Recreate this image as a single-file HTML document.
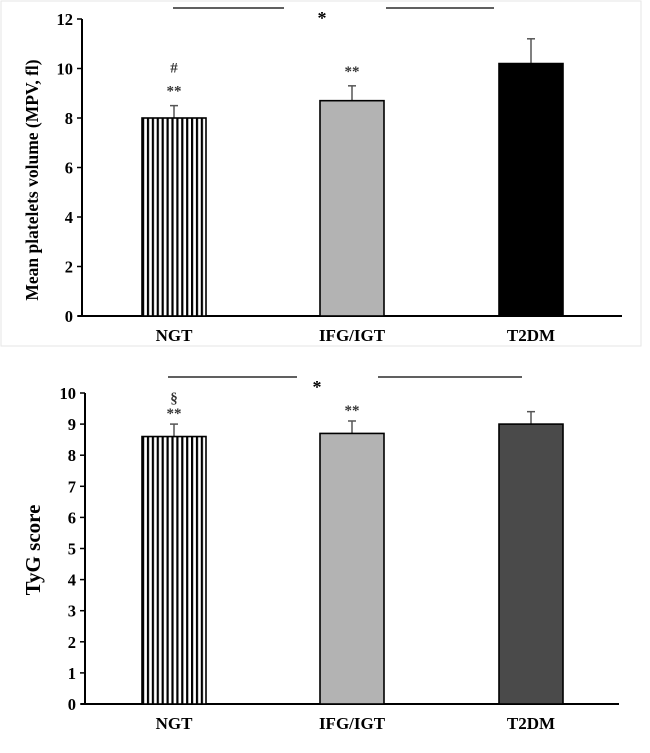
<!DOCTYPE html>
<html><head><meta charset="utf-8"><style>
html,body{margin:0;padding:0;background:#fff;}
svg{display:block;font-family:"Liberation Serif",serif;font-weight:bold;}
</style></head><body>
<svg id="c" width="650" height="753" viewBox="0 0 650 753" xmlns="http://www.w3.org/2000/svg">
<defs>
<pattern id="stripes" patternUnits="userSpaceOnUse" width="4.9" height="10" x="142">
<rect width="4.9" height="10" fill="#fff"/><rect x="0" width="2.2" height="10" fill="#000"/>
</pattern>
</defs>
<rect x="1" y="1" width="640" height="345" fill="none" stroke="#e6e6e6"/>
</svg>
<script>
const categories=["NGT","IFG/IGT","T2DM"];
const mpvValues=[8.0,8.7,10.2];
const mpvErrors=[0.5,0.6,1.0];
const mpvTicks=[0,2,4,6,8,10,12];
const mpvMarks=["# **","**",""];
const tygValues=[8.6,8.7,9.0];
const tygErrors=[0.4,0.4,0.4];
const tygTicks=[0,1,2,3,4,5,6,7,8,9,10];
const tygMarks=["§ **","**",""];

const svg=document.getElementById('c');
const NS="http://www.w3.org/2000/svg";
function mk(tag,attrs,parent){const e=document.createElementNS(NS,tag);for(const k in attrs)e.setAttribute(k,attrs[k]);(parent||svg).appendChild(e);return e;}

function chart(p){
  const g=mk('g',{});
  
  
  const yMax=p.ticks[p.ticks.length-1];
  const y=v=>p.y0-(p.y0-p.yTop)*v/yMax;
  const barL=[142,320,499], bw=64;
  const x=i=>barL[i];
  const ya=mk('line',{x1:p.ax,y1:y(yMax),x2:p.ax,y2:p.y0,stroke:'#000','stroke-width':2},g);
  
  const xa=mk('line',{x1:p.ax-4,y1:p.y0,x2:p.xEnd,y2:p.y0,stroke:'#000','stroke-width':2},g);
  
  p.ticks.forEach(t=>{
    const tk=mk('line',{x1:p.ax-5,y1:y(t),x2:p.ax,y2:y(t),stroke:'#000','stroke-width':1.5},g);
    
    const tl=mk('text',{x:p.ax-9,y:y(t)+6,'text-anchor':'end','font-size':16.5},g);
    tl.textContent=t;
    
  });
  const tt=mk('text',{x:0,y:0,'text-anchor':'middle','font-size':p.titleSize,transform:`translate(${p.titleX},${p.titleY}) rotate(-90)`},g);
  tt.textContent=p.title;
  
  p.values.forEach((v,i)=>{
    const cx=x(i)+bw/2;
    const e=mk('line',{x1:cx,y1:y(v),x2:cx,y2:y(v+p.errors[i]),stroke:'#555','stroke-width':1.5},g);
    
    const ec=mk('line',{x1:cx-4,y1:y(v+p.errors[i]),x2:cx+4,y2:y(v+p.errors[i]),stroke:'#555','stroke-width':1.5},g);
    
    const r=mk('rect',{x:x(i),y:y(v),width:bw,height:p.y0-y(v),fill:p.fills[i],stroke:'#000','stroke-width':1.6},g);
    
    
    const cl=mk('text',{x:cx,y:p.labelY,'text-anchor':'middle','font-size':17},g);
    cl.textContent=categories[i];
    
    const m=p.marks[i];
    if(m){
      const parts=m.split(' ');
      const top=y(v+p.errors[i]);
      parts.reverse().forEach((s,k)=>{
        const st=mk('text',{x:cx,y:top-p.markGap-k*p.markStep,'text-anchor':'middle','font-size':15,fill:'#333'},g);
        st.textContent=s;
        
      });
    }
  });
  p.brackets.forEach(b=>{
    const l=mk('line',{x1:b[0],y1:p.brY,x2:b[1],y2:p.brY,stroke:'#000','stroke-width':1.2},g);
    
  });
  const s=mk('text',{x:p.starX,y:p.brY+16,'text-anchor':'middle','font-size':18},g);
  s.textContent='*';
  
}
chart({name:'mpv-chart',values:mpvValues,errors:mpvErrors,ticks:mpvTicks,marks:mpvMarks,ax:82,y0:316,yTop:19,xEnd:622,
  fills:['url(#stripes)','#b3b3b3','#000'],title:'Mean platelets volume (MPV, fl)',titleSize:17.5,titleX:38,titleY:180,labelY:341,
  markGap:10,markStep:23,brackets:[[173,284],[386,494]],brY:8,starX:322});
chart({name:'tyg-chart',values:tygValues,errors:tygErrors,ticks:tygTicks,marks:tygMarks,ax:85,y0:704,yTop:393,xEnd:619,
  fills:['url(#stripes)','#b3b3b3','#4a4a4a'],title:'TyG score',titleSize:21,titleX:40,titleY:550,labelY:729,
  markGap:6,markStep:15,brackets:[[168,297],[378,522]],brY:377,starX:317});
</script>
</body></html>
